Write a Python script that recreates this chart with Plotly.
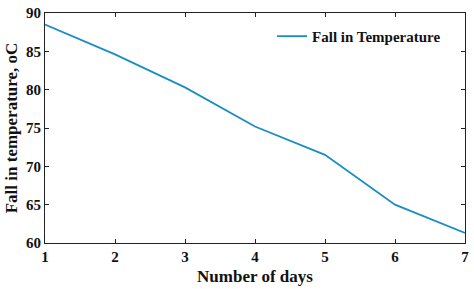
import plotly.graph_objects as go

days = [1, 2, 3, 4, 5, 6, 7]
temperature = [88.5, 84.6, 80.3, 75.2, 71.5, 65.0, 61.3]
series_name = "Fall in Temperature"
x_title = "Number of days"
y_title = "Fall in temperature, oC"
x_ticks = [1, 2, 3, 4, 5, 6, 7]
y_ticks = [60, 65, 70, 75, 80, 85, 90]

fam = "Liberation Serif, Times New Roman, serif"
col = "#111111"

fig = go.Figure()
fig.add_trace(go.Scatter(x=days, y=temperature, mode="lines", name=series_name,
                         line=dict(color="#1a8ec4", width=1.8), showlegend=True))

axis_common = dict(showline=True, linecolor="#222222", linewidth=1.2, mirror="ticks",
                   ticks="inside", ticklen=4, tickcolor="#222222", showgrid=False,
                   zeroline=False,
                   tickfont=dict(size=15, family=fam, color=col, weight="bold"))

fig.update_xaxes(range=[1, 7], tickvals=x_ticks,
                 title=dict(text=x_title, font=dict(size=17, family=fam, color=col, weight="bold"),
                            standoff=6),
                 **axis_common)
fig.update_yaxes(range=[60, 90], tickvals=y_ticks,
                 title=dict(text=y_title, font=dict(size=17, family=fam, color=col, weight="bold"),
                            standoff=3),
                 **axis_common)
fig.update_layout(
    width=474, height=289,
    margin=dict(l=45, r=5, t=9, b=46),
    paper_bgcolor="white", plot_bgcolor="white",
    font=dict(family=fam, size=14, color=col),
    legend=dict(x=0.955, y=0.97, xanchor="right", yanchor="top", bgcolor="rgba(0,0,0,0)",
                font=dict(size=15, family=fam, color=col, weight="bold")),
)
fig.write_html("out.html")
